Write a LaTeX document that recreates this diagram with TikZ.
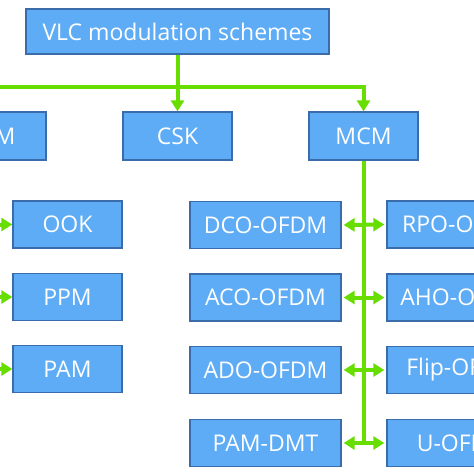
\documentclass[tikz,border=0pt]{standalone}
\usepackage{fontspec}
\setmainfont{Open Sans}
\usetikzlibrary{positioning,arrows.meta}
\definecolor{boxblue}{RGB}{94,172,246}
\definecolor{boxedge}{RGB}{58,108,170}
\definecolor{linkgreen}{RGB}{104,222,0}
\tikzstyle{scheme} = [rectangle, minimum width=109pt, minimum height=47pt, inner sep=0pt, text centered, draw=boxedge, line width=1.3pt, fill=boxblue, text=white, font=\fontsize{23}{27}\selectfont]
\tikzstyle{ofdm} = [scheme, minimum width=151pt]
\tikzstyle{link} = [line width=4pt, draw=linkgreen, >={Triangle[length=11pt,width=13pt]}]

\begin{document}
\begin{tikzpicture}[x=1pt, y=-1pt]
        \useasboundingbox (0,0) rectangle (474,474);
        \clip (0,0) rectangle (474,474);
        \node[scheme, minimum width=303pt, minimum height=45pt] (vlc) at (177.5,31.5) {VLC modulation schemes};
        \node[scheme, minimum height=48pt] (scm) at (-8.5,136) {SCM};
        \node[scheme, minimum height=48pt] (csk) at (177.5,136) {CSK};
        \node[scheme, minimum height=48pt] (mcm) at (363.5,136) {MCM};
        % single carrier
        \node[scheme] (ook) at (67.5,224.5) {OOK};
        \node[scheme] (ppm) at (67.5,297) {PPM};
        \node[scheme] (pam) at (67.5,369) {PAM};
        % multi carrier
        \node[ofdm] (dco) at (265.5,225) {DCO-OFDM};
        \node[ofdm] (aco) at (265.5,297.5) {ACO-OFDM};
        \node[ofdm] (ado) at (265.5,370) {ADO-OFDM};
        \node[ofdm] (pamdmt) at (265.5,443) {PAM-DMT};
        \node[ofdm] (rpo) at (462.5,224.5) {RPO-OFDM};
        \node[ofdm] (aho) at (462.5,297.5) {AHO-OFDM};
        \node[ofdm] (flip) at (462.5,370) {Flip-OFDM};
        \node[ofdm] (uofdm) at (462.5,443) {U-OFDM};
        \coordinate (bus) at (177.5,87);
        \draw[link] (vlc.south) -- (bus);
        \draw[link,->] (bus) -- (csk.north);
        \draw[link,->] (bus) -| (mcm.north);
        \draw[link,->] (bus) -| (scm.north);
        \draw[link] (scm.south) -- (scm.south |- pam.west);
        \draw[link,->] (scm.south |- ook.west) -- (ook.west);
        \draw[link,->] (scm.south |- ppm.west) -- (ppm.west);
        \draw[link,->] (scm.south |- pam.west) -- (pam.west);
        \draw[link] (mcm.south) -- (mcm.south |- pamdmt.east);
        \draw[link,<->,shorten <=2pt,shorten >=2pt] (dco.east) -- (rpo.west);
        \draw[link,<->,shorten <=2pt,shorten >=2pt] (aco.east) -- (aho.west);
        \draw[link,<->,shorten <=2pt,shorten >=2pt] (ado.east) -- (flip.west);
        \draw[link,<->,shorten <=2pt,shorten >=2pt] (pamdmt.east) -- (uofdm.west);
        \end{tikzpicture}
\end{document}
